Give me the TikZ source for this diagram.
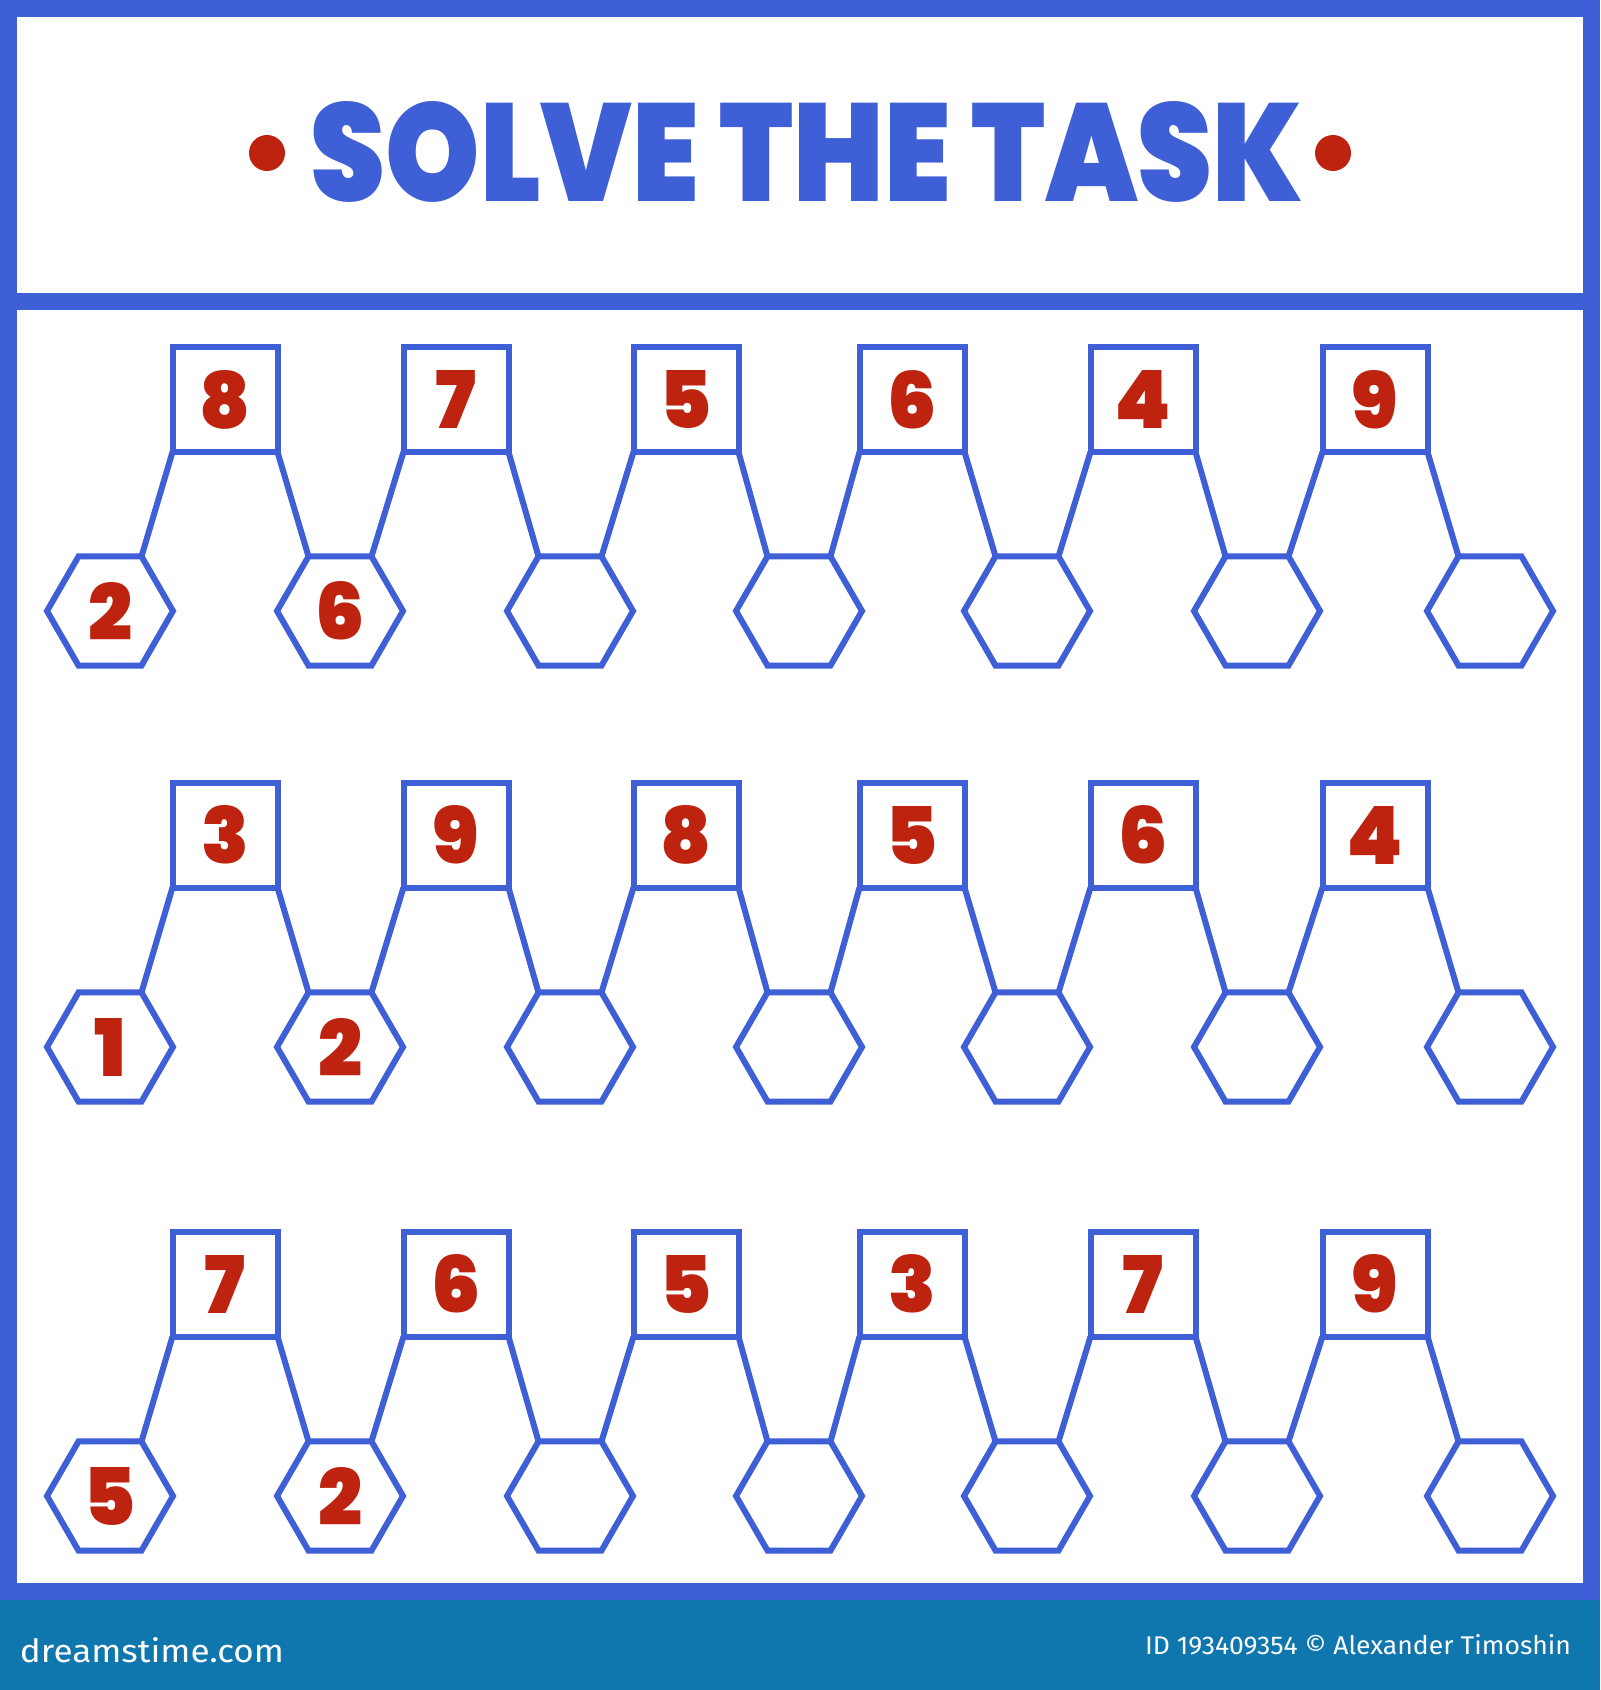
\documentclass[tikz,border=0pt]{standalone}
\usepackage{fontspec}
\usepackage{graphicx}
\usetikzlibrary{shapes.geometric}
\newfontfamily\heavyfont{Poppins Black}
\newfontfamily\bannerfont{Fira Sans}
\definecolor{frameblue}{RGB}{62,95,214}
\definecolor{numred}{RGB}{190,35,15}
\definecolor{bannerteal}{RGB}{16,119,174}
\newcommand\mydigit[1]{\resizebox{!}{29pt}{\heavyfont\color{numred}#1}}
\begin{document}
\begin{tikzpicture}[x=0.5pt,y=-0.5pt,
  boxnode/.style={draw=frameblue, line width=3pt, rectangle, minimum size=52.5pt, inner sep=0pt, outer sep=0pt},
  hexnode/.style={draw=frameblue, line width=3pt, regular polygon, regular polygon sides=6, minimum size=63pt, inner sep=0pt, outer sep=0pt},
  link/.style={draw=frameblue, line width=3pt},
  digitlabel/.style={inner sep=0pt},
  reddot/.style={circle, fill=numred, minimum size=18pt, inner sep=0pt}
]
\useasboundingbox (0,0) rectangle (1600,1690);
% frame and panels
\fill[frameblue] (0,0) rectangle (1600,1600);
\fill[white] (17,17) rectangle (1583,293);
\fill[white] (17,310) rectangle (1583,1583);
\fill[bannerteal] (0,1600) rectangle (1600,1690);
% title
\node[text=frameblue, inner sep=0pt] (title) at (807,152) {\resizebox{496.5pt}{50pt}{\heavyfont SOLVE THE TASK}};
\node[reddot] (dotL) at (267,153) {};
\node[reddot] (dotR) at (1333,153) {};
% rows
\foreach \r/\yb/\yh/\digs/\ha/\hb in {1/399.5/611/{8,7,5,6,4,9}/2/6, 2/835/1047/{3,9,8,5,6,4}/1/2, 3/1284/1496/{7,6,5,3,7,9}/5/2}{
  \foreach \hx [count=\j] in {110,340,570,799,1027,1257,1490}{
    \node[hexnode] (h\r-\j) at (\hx,\yh) {};
  }
  \node[digitlabel] (t\r-1) at (h\r-1.center) {\mydigit{\ha}};
  \node[digitlabel] (t\r-2) at (h\r-2.center) {\mydigit{\hb}};
  \foreach \bxx [count=\i] in {225,456,686,912,1143,1375}{
    \pgfmathtruncatemacro\d{{\digs}[\i-1]}
    \pgfmathtruncatemacro\k{\i+1}
    \node[boxnode] (b\r-\i) at (\bxx,\yb) {\mydigit{\d}};
    \draw[link] (b\r-\i.south west) -- (h\r-\i.corner 1);
    \draw[link] (b\r-\i.south east) -- (h\r-\k.corner 2);
  }
}
% banner
\node[text=white, inner sep=0pt] (site) at (152,1650) {\resizebox{132pt}{12.5pt}{\bannerfont dreamstime.com}};
\node[text=white, inner sep=0pt] (credit) at (1358,1645) {\resizebox{213pt}{10pt}{\bannerfont ID 193409354 © Alexander Timoshin}};
\end{tikzpicture}
\end{document}
